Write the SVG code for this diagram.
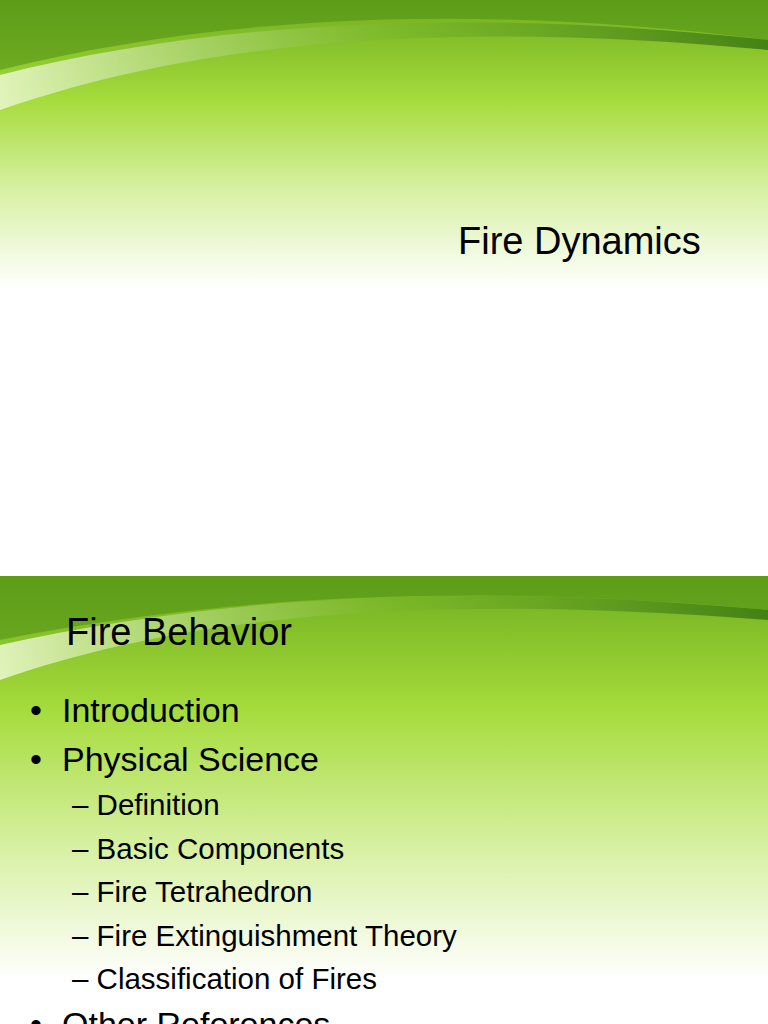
<svg xmlns="http://www.w3.org/2000/svg" width="768" height="1024" viewBox="0 0 768 1024">
<defs>
<linearGradient id="g" x1="0" y1="0" x2="0" y2="1">
<stop offset="0" stop-color="#6fae1e"/>
<stop offset="0.35" stop-color="#a6dc3c"/>
<stop offset="0.65" stop-color="#d6f0a0"/>
<stop offset="1" stop-color="#ffffff"/>
</linearGradient>
<linearGradient id="g2" x1="0" y1="0" x2="0" y2="1">
<stop offset="0" stop-color="#6fae1e"/>
<stop offset="0.3" stop-color="#a6dc3c"/>
<stop offset="0.6" stop-color="#d6f0a0"/>
<stop offset="0.9" stop-color="#ffffff"/>
</linearGradient>
<linearGradient id="sw" x1="0" y1="0" x2="1" y2="0">
<stop offset="0" stop-color="#e8f6c8" stop-opacity="0.9"/>
<stop offset="0.5" stop-color="#7cb82a" stop-opacity="0.6"/>
<stop offset="1" stop-color="#3d7a12" stop-opacity="0.9"/>
</linearGradient>
<style>
.t{font-family:"Liberation Sans",Arial,sans-serif;fill:#000}
</style>
</defs>
<rect width="768" height="1024" fill="#fff"/>
<g id="slide1">
<rect x="0" y="0" width="768" height="288" fill="url(#g)"/>
<path d="M0 70 C200 20 450 0 768 40 L768 0 L0 0 Z" fill="#4f8e14" opacity="0.55"/>
<path d="M0 110 C200 40 450 20 768 50 L768 40 C450 5 200 25 0 75 Z" fill="url(#sw)"/>
<text class="t" x="458" y="254" font-size="38">Fire Dynamics</text>
</g>
<g id="slide2">
<rect x="0" y="576" width="768" height="448" fill="url(#g2)"/>
<path d="M0 640 C200 600 450 580 768 610 L768 576 L0 576 Z" fill="#4f8e14" opacity="0.55"/>
<path d="M0 680 C200 610 450 595 768 620 L768 610 C450 580 200 600 0 645 Z" fill="url(#sw)"/>
<text class="t" x="66" y="645" font-size="38">Fire Behavior</text>
<g font-size="34" class="t">
<text class="t" x="30" y="722">•</text><text class="t" x="62" y="722">Introduction</text>
<text class="t" x="30" y="771">•</text><text class="t" x="62" y="771">Physical Science</text>
<text class="t" x="30" y="1036">•</text><text class="t" x="62" y="1036">Other References</text>
</g>
<g class="t" font-size="29.5">
<text class="t" x="72" y="815">– Definition</text>
<text class="t" x="72" y="859">– Basic Components</text>
<text class="t" x="72" y="902">– Fire Tetrahedron</text>
<text class="t" x="72" y="946">– Fire Extinguishment Theory</text>
<text class="t" x="72" y="989">– Classification of Fires</text>
</g>
</g>
</svg>
